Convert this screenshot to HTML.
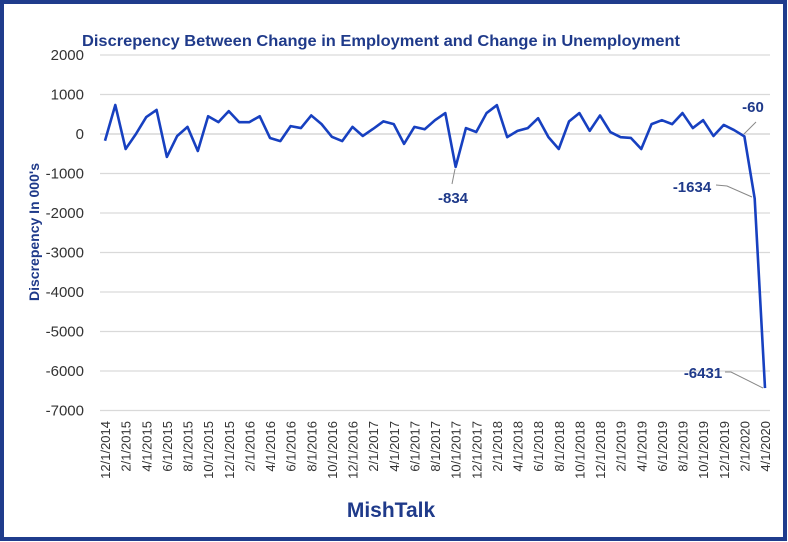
<!DOCTYPE html>
<html><head><meta charset="utf-8"><style>
html,body{margin:0;padding:0;background:#fff}
svg{display:block}
</style></head><body>
<svg width="788" height="542" viewBox="0 0 788 542" xmlns="http://www.w3.org/2000/svg" font-family="Liberation Sans, sans-serif">
<rect x="0" y="0" width="788" height="542" fill="#fff"/>
<rect x="2" y="2" width="783" height="537" fill="none" stroke="#1f3c8c" stroke-width="4"/>
<text x="82" y="46" font-size="15.5" font-weight="bold" fill="#1f3a8a" textLength="598" lengthAdjust="spacingAndGlyphs">Discrepency Between Change in Employment and Change in Unemployment</text>
<g stroke="#d9d9d9" stroke-width="1.3">
<line x1="100" x2="770" y1="55" y2="55"/><line x1="100" x2="770" y1="94.5" y2="94.5"/>
<line x1="100" x2="770" y1="173.5" y2="173.5"/><line x1="100" x2="770" y1="213" y2="213"/>
<line x1="100" x2="770" y1="252.5" y2="252.5"/><line x1="100" x2="770" y1="292" y2="292"/>
<line x1="100" x2="770" y1="331.5" y2="331.5"/><line x1="100" x2="770" y1="371" y2="371"/>
<line x1="100" x2="770" y1="410.5" y2="410.5"/>
<line x1="100" x2="770" y1="134" y2="134" stroke="#cfcfcf"/>
</g>
<g font-size="15" fill="#333" text-anchor="end">
<text x="84" y="60">2000</text><text x="84" y="99.5">1000</text><text x="84" y="139">0</text>
<text x="84" y="178.5">-1000</text><text x="84" y="218">-2000</text><text x="84" y="257.5">-3000</text>
<text x="84" y="297">-4000</text><text x="84" y="336.5">-5000</text><text x="84" y="376">-6000</text>
<text x="84" y="415.5">-7000</text>
</g>
<text transform="translate(39,232) rotate(-90)" text-anchor="middle" font-size="14" font-weight="bold" fill="#1f3a8a">Discrepency In 000's</text>
<g transform="translate(105,134) scale(10.3125,-0.0395)">
<polyline fill="none" stroke="#1740c0" stroke-width="2.6" vector-effect="non-scaling-stroke" stroke-linejoin="round" points="0,-170 1,734 2,-380 3,0 4,430 5,610 6,-580 7,-50 8,180 9,-430 10,450 11,300 12,580 13,300 14,300 15,450 16,-100 17,-180 18,200 19,150 20,470 21,250 22,-70 23,-180 24,180 25,-50 26,130 27,320 28,250 29,-250 30,180 31,120 32,350 33,530 34,-834 35,150 36,50 37,530 38,730 39,-80 40,80 41,150 42,400 43,-80 44,-380 45,320 46,530 47,80 48,470 49,50 50,-80 51,-100 52,-380 53,250 54,350 55,250 56,530 57,150 58,350 59,-50 60,230 61,100 62,-60 63,-1634 64,-6431"/>
</g>
<g stroke="#888" stroke-width="1" fill="none">
<line x1="455" y1="169" x2="452" y2="184"/>
<line x1="744" y1="134" x2="756" y2="122"/>
<polyline points="716,185 727,186 752,197"/>
<polyline points="725,372 731,372 763,388"/>
</g>
<g font-size="15" font-weight="bold" fill="#1f3a8a" text-anchor="middle">
<text x="453" y="203">-834</text>
<text x="753" y="112">-60</text>
<text x="692" y="192">-1634</text>
<text x="703" y="378">-6431</text>
</g>
<g font-size="13" fill="#333" text-anchor="end">
<text transform="translate(110,421) rotate(-90)">12/1/2014</text>
<text transform="translate(130.6,421) rotate(-90)">2/1/2015</text>
<text transform="translate(151.3,421) rotate(-90)">4/1/2015</text>
<text transform="translate(171.9,421) rotate(-90)">6/1/2015</text>
<text transform="translate(192.5,421) rotate(-90)">8/1/2015</text>
<text transform="translate(213.1,421) rotate(-90)">10/1/2015</text>
<text transform="translate(233.8,421) rotate(-90)">12/1/2015</text>
<text transform="translate(254.4,421) rotate(-90)">2/1/2016</text>
<text transform="translate(275,421) rotate(-90)">4/1/2016</text>
<text transform="translate(295.6,421) rotate(-90)">6/1/2016</text>
<text transform="translate(316.3,421) rotate(-90)">8/1/2016</text>
<text transform="translate(336.9,421) rotate(-90)">10/1/2016</text>
<text transform="translate(357.5,421) rotate(-90)">12/1/2016</text>
<text transform="translate(378.1,421) rotate(-90)">2/1/2017</text>
<text transform="translate(398.8,421) rotate(-90)">4/1/2017</text>
<text transform="translate(419.4,421) rotate(-90)">6/1/2017</text>
<text transform="translate(440,421) rotate(-90)">8/1/2017</text>
<text transform="translate(460.6,421) rotate(-90)">10/1/2017</text>
<text transform="translate(481.3,421) rotate(-90)">12/1/2017</text>
<text transform="translate(501.9,421) rotate(-90)">2/1/2018</text>
<text transform="translate(522.5,421) rotate(-90)">4/1/2018</text>
<text transform="translate(543.1,421) rotate(-90)">6/1/2018</text>
<text transform="translate(563.8,421) rotate(-90)">8/1/2018</text>
<text transform="translate(584.4,421) rotate(-90)">10/1/2018</text>
<text transform="translate(605,421) rotate(-90)">12/1/2018</text>
<text transform="translate(625.6,421) rotate(-90)">2/1/2019</text>
<text transform="translate(646.3,421) rotate(-90)">4/1/2019</text>
<text transform="translate(666.9,421) rotate(-90)">6/1/2019</text>
<text transform="translate(687.5,421) rotate(-90)">8/1/2019</text>
<text transform="translate(708.1,421) rotate(-90)">10/1/2019</text>
<text transform="translate(728.8,421) rotate(-90)">12/1/2019</text>
<text transform="translate(749.4,421) rotate(-90)">2/1/2020</text>
<text transform="translate(770,421) rotate(-90)">4/1/2020</text>
</g>
<text x="391" y="517" text-anchor="middle" font-size="21" font-weight="bold" fill="#1f3a8a">MishTalk</text>
</svg>
</body></html>
